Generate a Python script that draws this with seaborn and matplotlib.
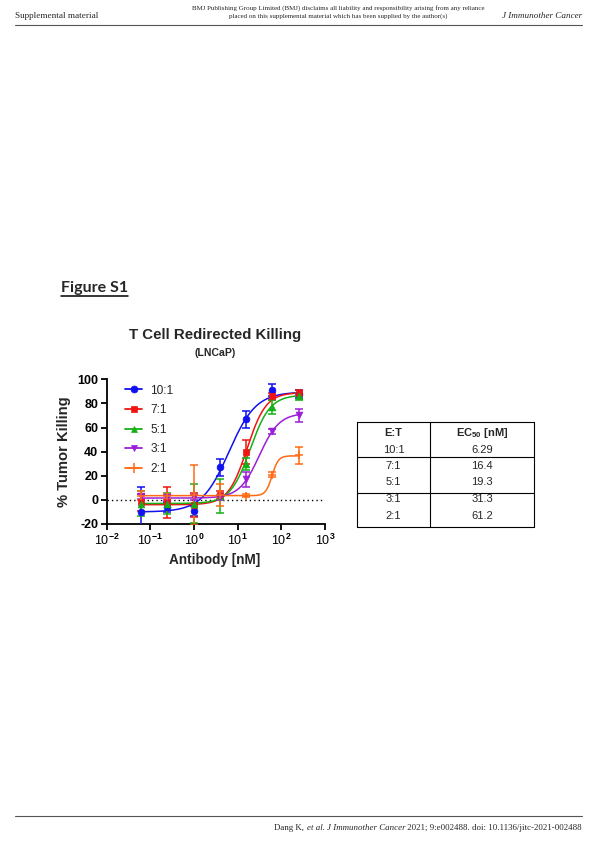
import numpy as np
import pandas as pd
import seaborn as sns
import matplotlib.pyplot as plt
from matplotlib.lines import Line2D
from matplotlib.ticker import FixedLocator, NullLocator

# antibody concentrations [nM] (4-fold dilution series from 250 nM)
conc = [0.061, 0.244, 0.977, 3.91, 15.6, 62.5, 250]

ratios = ['10:1', '7:1', '5:1', '3:1', '2:1']
colors = ['#1010f0', '#f01414', '#16b016', '#9b1fd6', '#ff6a13']
markers = ['o', 's', '^', 'v', '+']

# mean % tumor killing and SD
kill_10 = [-10, -6, -9, 27, 67, 91, 88]
sd_10 = [21, 4, 4, 7, 7, 5, 3.5]
kill_7 = [-2, -2, -4, 4, 40, 86, 89]
sd_7 = [7, 13, 10, 3, 10, 3, 2]
kill_5 = [-3, -3, -3, 3, 30, 77, 86]
sd_5 = [10, 9, 16, 14, 5, 5.5, 3]
kill_3 = [3, 2, 2, 2, 17, 57, 70]
sd_3 = [2, 2, 2, 2, 6, 2, 5]
kill_2 = [3.5, 3, 4, 4, 3.5, 21, 37]
sd_2 = [4, 2, 25, 9, 1, 2, 7]

# 4PL fit parameters per E:T ratio
fit_bottom = [-10, -4, -3, 1.5, 3.5]
fit_top = [89.5, 89, 87, 72, 36.5]
fit_ec50 = [6.29, 16.4, 19.3, 31.3, 61.2]
fit_hill = [1.4, 2.0, 1.9, 1.9, 6.0]

# table text
table_ratio = ['10:1', '7:1', '5:1', '3:1', '2:1']
table_ec50 = ['6.29', '16.4', '19.3', '31.3', '61.2']

kills = [kill_10, kill_7, kill_5, kill_3, kill_2]
sds = [sd_10, sd_7, sd_5, sd_3, sd_2]

# long-format data frames
pts = pd.concat([pd.DataFrame({'ratio': r, 'conc': conc, 'kill': k, 'sd': s})
                 for r, k, s in zip(ratios, kills, sds)], ignore_index=True)

xfit = np.logspace(np.log10(conc[0]), np.log10(conc[-1]), 400)
curves = pd.concat([pd.DataFrame({'ratio': r, 'conc': xfit,
                                  'kill': b + (t - b) / (1 + (e / xfit) ** h)})
                    for r, b, t, e, h in zip(ratios, fit_bottom, fit_top, fit_ec50, fit_hill)],
                   ignore_index=True)

sns.set_style('ticks')
plt.rcParams['font.family'] = ['Liberation Sans', 'DejaVu Sans']
plt.rcParams['axes.unicode_minus'] = False
plt.rcParams['mathtext.fontset'] = 'custom'
plt.rcParams['mathtext.rm'] = 'Liberation Sans:bold'
plt.rcParams['mathtext.it'] = 'Liberation Sans:bold'
plt.rcParams['mathtext.bf'] = 'Liberation Sans:bold'
plt.rcParams['mathtext.default'] = 'rm'

W, H = 595, 842
fig = plt.figure(figsize=(W / 100, H / 100), dpi=100)


def fx(px):
    return px / W


def fy(py):
    return 1 - py / H


# ---- page header / footer ----
serif = ['Liberation Serif', 'DejaVu Serif']
fig.text(fx(15), fy(16), 'Supplemental material', family=serif, fontsize=6.6, va='center')
fig.text(fx(338), fy(8), 'BMJ Publishing Group Limited (BMJ) disclaims all liability and responsibility arising from any reliance',
         family=serif, fontsize=5.0, ha='center', va='center')
fig.text(fx(338), fy(16), 'placed on this supplemental material which has been supplied by the author(s)',
         family=serif, fontsize=5.0, ha='center', va='center')
fig.text(fx(582), fy(16), 'J Immunother Cancer', family=serif, fontsize=6.6, style='italic',
         ha='right', va='center')
fig.add_artist(Line2D([fx(15), fx(582)], [fy(25), fy(25)], color='#555555', lw=0.8))
fig.add_artist(Line2D([fx(15), fx(582)], [fy(816), fy(816)], color='#555555', lw=0.8))

# footer citation: pieces in regular / italic, laid out left to right
footer_parts = [('Dang K, ', 'normal'), ('et al.', 'italic'), (' ', 'normal'),
                ('J Immunother Cancer', 'italic'),
                (' 2021; 9:e002488. doi: 10.1136/jitc-2021-002488', 'normal')]
renderer = fig.canvas.get_renderer()
texts = []
xpos = 0.0
for s, st in footer_parts:
    t = fig.text(xpos, fy(828), s, family=serif, fontsize=6.4, style=st, va='center')
    w = t.get_window_extent(renderer).width / W
    texts.append((t, w))
    xpos += w
shift = fx(582) - xpos
xpos = shift
for t, w in texts:
    t.set_x(xpos)
    xpos += w

# ---- figure label ----
fig_lbl = fig.text(fx(61), fy(292), 'Figure S1', family=['Lato', 'DejaVu Sans'],
                   fontsize=11.5, fontweight='bold', va='baseline')
bb = fig_lbl.get_window_extent(renderer).transformed(fig.transFigure.inverted())
fig.add_artist(Line2D([bb.x0, bb.x1], [fy(295.5), fy(295.5)], color='black', lw=1.1))

# ---- chart ----
ax = fig.add_axes([fx(106.7), fy(524), 218.3 / W, 144.7 / H])
ax.set_xscale('log')

sns.lineplot(data=curves, x='conc', y='kill', hue='ratio', hue_order=ratios,
             palette=colors, lw=1.1, legend=False, ax=ax, zorder=3)

for r, c, m in zip(ratios, colors, markers):
    d = pts[pts['ratio'] == r]
    ax.errorbar(d['conc'], d['kill'], yerr=d['sd'], fmt='none', ecolor=c,
                elinewidth=1.1, capsize=3, capthick=1.1, zorder=4)
    if m == '+':
        sns.scatterplot(x=d['conc'], y=d['kill'], marker='+', color=c, s=30,
                        linewidth=1.1, ax=ax, zorder=5)
    else:
        sns.scatterplot(x=d['conc'], y=d['kill'], marker=m, color=c, s=24,
                        edgecolor=c, linewidth=0.5, ax=ax, zorder=5)

ax.axhline(0, color='black', lw=1, ls=(0, (1, 2.2)), zorder=2)

ax.set_xlim(1e-2, 1e3)
ax.set_ylim(-20, 100)
ax.xaxis.set_major_locator(FixedLocator([1e-2, 1e-1, 1e0, 1e1, 1e2, 1e3]))
ax.xaxis.set_minor_locator(NullLocator())
ax.set_xticklabels(['10$^{-2}$', '10$^{-1}$', '10$^{0}$', '10$^{1}$', '10$^{2}$', '10$^{3}$'])
ax.set_yticks([-20, 0, 20, 40, 60, 80, 100])
ax.set_xlabel('')
ax.set_ylabel('')
for lab in ax.get_yticklabels():
    lab.set_fontweight('bold')
ax.tick_params(axis='both', direction='out', length=4, width=1.3, labelsize=9, pad=2,
               colors='black')
for sp in ['top', 'right']:
    ax.spines[sp].set_visible(False)
for sp in ['left', 'bottom']:
    ax.spines[sp].set_linewidth(1.3)
    ax.spines[sp].set_color('black')

handles = [Line2D([], [], color=c, marker=m, lw=1.3, markersize=5 if m != '+' else 6.5,
                  markeredgewidth=1.1 if m == '+' else 0.5)
           for c, m in zip(colors, markers)]
ax.legend(handles, ratios, loc='upper left', bbox_to_anchor=(fx(125), fy(384.5)),
          bbox_transform=fig.transFigure, frameon=False, fontsize=8.6,
          handlelength=1.45, handletextpad=0.67, labelspacing=0.64, borderpad=0,
          borderaxespad=0)

fig.text(fx(215), fy(335), 'T Cell Redirected Killing', fontsize=10.8, fontweight='bold',
         ha='center', va='center')
fig.text(fx(215), fy(353), '(LNCaP)', fontsize=7.6, fontweight='bold', ha='center', va='center')
fig.text(fx(64), fy(451.5), '% Tumor Killing', fontsize=10.6, fontweight='bold',
         rotation=90, ha='center', va='center')
fig.text(fx(215), fy(560), 'Antibody [nM]', fontsize=9.8, fontweight='bold',
         ha='center', va='center')

# ---- EC50 table ----
tx0, tx1, tmid = 357, 534, 430
ty_top, ty_bot = 422, 527
hlines = [ty_top, 457, 492.5, ty_bot]
for yy in hlines:
    fig.add_artist(Line2D([fx(tx0), fx(tx1)], [fy(yy), fy(yy)], color='black', lw=0.8))
for xx in [tx0, tmid, tx1]:
    fig.add_artist(Line2D([fx(xx), fx(xx)], [fy(ty_top), fy(ty_bot)], color='black', lw=0.8))

c1 = (tx0 + tmid) / 2
c2 = (tmid + tx1) / 2
fig.text(fx(c1), fy(433), 'E:T', fontsize=8, fontweight='bold', ha='center', va='center')
fig.text(fx(c2), fy(433), 'EC$_{50}$ [nM]', fontsize=8, fontweight='bold', ha='center', va='center')
row_y = [450, 466, 481.7, 499.3, 516]
for yy, r, e in zip(row_y, table_ratio, table_ec50):
    fig.text(fx(c1), fy(yy), r, fontsize=8, ha='center', va='center')
    fig.text(fx(c2), fy(yy), e, fontsize=8, ha='center', va='center')

fig.savefig('out.png', dpi=100)
